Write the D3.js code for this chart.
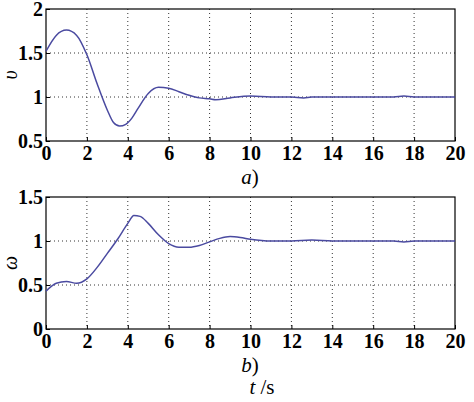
<!DOCTYPE html>
<html><head><meta charset="utf-8">
<script src="https://cdn.jsdelivr.net/npm/d3@7"></script>
<style>body{margin:0;background:#fff} text{font-family:"Liberation Serif","Times New Roman",serif !important}</style>
</head><body>
<svg id="chart" width="474" height="402"></svg>
<script>
const tV = [0,0.5,1,1.5,2,2.5,3,3.3,3.6,3.9,4.2,4.5,5,5.5,6,6.5,7,7.5,8,8.3,9,10,11,12,12.6,13,14,15,16,17,17.5,18,19,20];
const vV = [1.52,1.7,1.76,1.7,1.48,1.15,0.85,0.71,0.67,0.69,0.76,0.87,1.04,1.11,1.1,1.06,1.02,0.99,0.98,0.97,0.99,1.01,1.0,1.0,0.99,1.0,1.0,1.0,1.0,1.0,1.01,1.0,1.0,1.0];
const tW = [0,0.5,1,1.5,2,2.5,3,3.5,4,4.3,4.6,5,5.5,6,6.5,7,7.5,8,8.5,9,9.5,10,11,12,13,14,15,16,17,17.5,18,19,20];
const wV = [0.43,0.52,0.54,0.52,0.57,0.7,0.86,1.02,1.2,1.29,1.28,1.2,1.07,0.97,0.93,0.93,0.95,0.99,1.03,1.05,1.04,1.02,1.0,1.0,1.01,1.0,1.0,1.0,1.0,0.99,1.0,1.0,1.0];
const xTicks = d3.range(0, 21, 2);

const svg = d3.select("#chart");

function panel(t, v, yDom, yTicks, top, bottom, yLab, sub, subY) {
    const x = d3.scaleLinear().domain([0, 20]).range([46, 455]);
    const y = d3.scaleLinear().domain(yDom).range([bottom, top]);
    const g = svg.append("g");
    // grid
    g.selectAll(".vx").data(xTicks.slice(1, -1)).enter().append("line")
        .attr("x1", d => x(d)).attr("x2", d => x(d)).attr("y1", top).attr("y2", bottom)
        .attr("stroke", "#333").attr("stroke-width", 1).attr("stroke-dasharray", "1,3");
    g.selectAll(".hy").data(yTicks.slice(1, -1)).enter().append("line")
        .attr("y1", d => y(d)).attr("y2", d => y(d)).attr("x1", 46).attr("x2", 455)
        .attr("stroke", "#333").attr("stroke-width", 1).attr("stroke-dasharray", "1,3");
    g.append("rect").attr("x", 46).attr("y", top).attr("width", 409).attr("height", bottom - top)
        .attr("fill", "none").attr("stroke", "#000").attr("stroke-width", 1.2);
    const ax = g.append("g").attr("transform", `translate(0,${bottom})`)
        .call(d3.axisBottom(x).tickValues(xTicks).tickSize(-4).tickPadding(5).tickFormat(d3.format("")));
    const ay = g.append("g").attr("transform", "translate(46,0)")
        .call(d3.axisLeft(y).tickValues(yTicks).tickSize(-4).tickPadding(3).tickFormat(d3.format("")));
    [ax, ay].forEach(a => {
        a.select(".domain").remove();
        a.selectAll("line").attr("stroke", "#000");
        a.selectAll("text").attr("font-size", 20).attr("fill", "#000").attr("font-weight", 600);
    });
    g.append("path").datum(d3.zip(t, v))
        .attr("d", d3.line().x(d => x(d[0])).y(d => y(d[1])).curve(d3.curveMonotoneX))
        .attr("fill", "none").attr("stroke", "#4a4aa0").attr("stroke-width", 1.5);
    g.append("text").attr("x", 12).attr("y", (top + bottom) / 2).attr("text-anchor", "middle")
        .attr("dominant-baseline", "middle")
        .attr("transform", `rotate(-90,12,${(top + bottom) / 2})`)
        .attr("font-style", "italic").attr("font-size", 20).text(yLab);
    g.append("text").attr("x", 250).attr("y", subY).attr("text-anchor", "middle")
        .attr("font-size", 21)
        .html(`<tspan font-style="italic">${sub}</tspan>)`);
}

panel(tV, vV, [0.5, 2], [0.5, 1, 1.5, 2], 9, 141, "υ", "a", 184);
panel(tW, wV, [0, 1.5], [0, 0.5, 1, 1.5], 197, 329, "ω", "b", 372);
svg.append("text").attr("x", 262).attr("y", 394).attr("text-anchor", "middle")
    .attr("font-size", 21)
    .html('<tspan font-style="italic">t</tspan> /s');
</script>
</body></html>
